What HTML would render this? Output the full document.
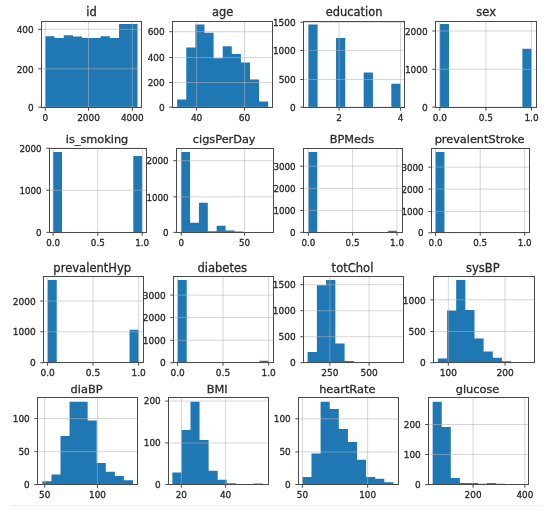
<!DOCTYPE html>
<html lang="en">
<head>
<meta charset="utf-8">
<title>Histograms</title>
<style>
html,body{margin:0;padding:0;background:#fff;}
body{width:550px;height:511px;overflow:hidden;}
svg{display:block;}
</style>
</head>
<body>
<svg width="550" height="511" viewBox="0 0 550 511" font-family="'DejaVu Sans', 'Liberation Sans', sans-serif">
<rect x="0" y="0" width="550" height="511" fill="#ffffff"/>
<rect x="11" y="505.5" width="532" height="5.5" fill="#fcfcfc"/>
<line x1="11" y1="505.5" x2="543" y2="505.5" stroke="#f0f0f0" stroke-width="1"/>
<g>
<rect x="41.5" y="21.5" width="100" height="86" fill="#fff"/>
<path d="M45.3 107.5L45.3 36.21L54.52 36.21L54.52 38.1L63.74 38.1L63.74 35.26L72.96 35.26L72.96 36.44L82.17 36.44L82.17 38.1L91.39 38.1L91.39 38.1L100.61 38.1L100.61 36.21L109.83 36.21L109.83 38.1L119.05 38.1L119.05 23.91L128.27 23.91L128.27 23.91L137.49 23.91L137.49 107.5Z" fill="#1f77b4"/>
<line x1="45.3" y1="21.5" x2="45.3" y2="107.5" stroke="#b4b4b4" stroke-width="0.8" stroke-opacity="0.7"/>
<line x1="88.56" y1="21.5" x2="88.56" y2="107.5" stroke="#b4b4b4" stroke-width="0.8" stroke-opacity="0.7"/>
<line x1="132.29" y1="21.5" x2="132.29" y2="107.5" stroke="#b4b4b4" stroke-width="0.8" stroke-opacity="0.7"/>
<line x1="41.5" y1="107.13" x2="141.5" y2="107.13" stroke="#b4b4b4" stroke-width="0.8" stroke-opacity="0.7"/>
<line x1="41.5" y1="68.83" x2="141.5" y2="68.83" stroke="#b4b4b4" stroke-width="0.8" stroke-opacity="0.7"/>
<line x1="41.5" y1="29.35" x2="141.5" y2="29.35" stroke="#b4b4b4" stroke-width="0.8" stroke-opacity="0.7"/>
<line x1="45.3" y1="107.5" x2="45.3" y2="110.7" stroke="#4a4a4a" stroke-width="1.0"/>
<text x="45.3" y="120.9" font-size="8.95" text-anchor="middle" fill="#2a2a2a" stroke="#2a2a2a" stroke-width="0.3">0</text>
<line x1="88.56" y1="107.5" x2="88.56" y2="110.7" stroke="#4a4a4a" stroke-width="1.0"/>
<text x="88.56" y="120.9" font-size="8.95" text-anchor="middle" fill="#2a2a2a" stroke="#2a2a2a" stroke-width="0.3">2000</text>
<line x1="132.29" y1="107.5" x2="132.29" y2="110.7" stroke="#4a4a4a" stroke-width="1.0"/>
<text x="132.29" y="120.9" font-size="8.95" text-anchor="middle" fill="#2a2a2a" stroke="#2a2a2a" stroke-width="0.3">4000</text>
<line x1="38.3" y1="107.13" x2="41.5" y2="107.13" stroke="#4a4a4a" stroke-width="1.0"/>
<text x="33.7" y="110.79" font-size="8.95" text-anchor="end" fill="#2a2a2a" stroke="#2a2a2a" stroke-width="0.3">0</text>
<line x1="38.3" y1="68.83" x2="41.5" y2="68.83" stroke="#4a4a4a" stroke-width="1.0"/>
<text x="33.7" y="72.5" font-size="8.95" text-anchor="end" fill="#2a2a2a" stroke="#2a2a2a" stroke-width="0.3">200</text>
<line x1="38.3" y1="29.35" x2="41.5" y2="29.35" stroke="#4a4a4a" stroke-width="1.0"/>
<text x="33.7" y="33.02" font-size="8.95" text-anchor="end" fill="#2a2a2a" stroke="#2a2a2a" stroke-width="0.3">400</text>
<rect x="41.5" y="21.5" width="100" height="86" fill="none" stroke="#4a4a4a" stroke-width="1.0"/>
<text x="91.51" y="15.78" font-size="11.45" text-anchor="middle" fill="#2a2a2a" stroke="#2a2a2a" stroke-width="0.3">id</text>
</g>
<g>
<rect x="172.5" y="21.5" width="100" height="86" fill="#fff"/>
<path d="M177.19 107.5L177.19 99.56L186.29 99.56L186.29 47.55L195.39 47.55L195.39 24.39L204.49 24.39L204.49 32.66L213.59 32.66L213.59 58.19L222.7 58.19L222.7 46.37L231.8 46.37L231.8 53.94L240.9 53.94L240.9 62.45L250 62.45L250 79.47L259.1 79.47L259.1 101.45L268.2 101.45L268.2 107.5Z" fill="#1f77b4"/>
<line x1="196.57" y1="21.5" x2="196.57" y2="107.5" stroke="#b4b4b4" stroke-width="0.8" stroke-opacity="0.7"/>
<line x1="244.56" y1="21.5" x2="244.56" y2="107.5" stroke="#b4b4b4" stroke-width="0.8" stroke-opacity="0.7"/>
<line x1="172.5" y1="107.13" x2="272.5" y2="107.13" stroke="#b4b4b4" stroke-width="0.8" stroke-opacity="0.7"/>
<line x1="172.5" y1="82.54" x2="272.5" y2="82.54" stroke="#b4b4b4" stroke-width="0.8" stroke-opacity="0.7"/>
<line x1="172.5" y1="57.48" x2="272.5" y2="57.48" stroke="#b4b4b4" stroke-width="0.8" stroke-opacity="0.7"/>
<line x1="172.5" y1="31.71" x2="272.5" y2="31.71" stroke="#b4b4b4" stroke-width="0.8" stroke-opacity="0.7"/>
<line x1="196.57" y1="107.5" x2="196.57" y2="110.7" stroke="#4a4a4a" stroke-width="1.0"/>
<text x="196.57" y="120.9" font-size="8.95" text-anchor="middle" fill="#2a2a2a" stroke="#2a2a2a" stroke-width="0.3">40</text>
<line x1="244.56" y1="107.5" x2="244.56" y2="110.7" stroke="#4a4a4a" stroke-width="1.0"/>
<text x="244.56" y="120.9" font-size="8.95" text-anchor="middle" fill="#2a2a2a" stroke="#2a2a2a" stroke-width="0.3">60</text>
<line x1="169.3" y1="107.13" x2="172.5" y2="107.13" stroke="#4a4a4a" stroke-width="1.0"/>
<text x="164.7" y="110.79" font-size="8.95" text-anchor="end" fill="#2a2a2a" stroke="#2a2a2a" stroke-width="0.3">0</text>
<line x1="169.3" y1="82.54" x2="172.5" y2="82.54" stroke="#4a4a4a" stroke-width="1.0"/>
<text x="164.7" y="86.21" font-size="8.95" text-anchor="end" fill="#2a2a2a" stroke="#2a2a2a" stroke-width="0.3">200</text>
<line x1="169.3" y1="57.48" x2="172.5" y2="57.48" stroke="#4a4a4a" stroke-width="1.0"/>
<text x="164.7" y="61.15" font-size="8.95" text-anchor="end" fill="#2a2a2a" stroke="#2a2a2a" stroke-width="0.3">400</text>
<line x1="169.3" y1="31.71" x2="172.5" y2="31.71" stroke="#4a4a4a" stroke-width="1.0"/>
<text x="164.7" y="35.38" font-size="8.95" text-anchor="end" fill="#2a2a2a" stroke="#2a2a2a" stroke-width="0.3">600</text>
<rect x="172.5" y="21.5" width="100" height="86" fill="none" stroke="#4a4a4a" stroke-width="1.0"/>
<text x="222.7" y="15.78" font-size="11.45" text-anchor="middle" fill="#2a2a2a" stroke="#2a2a2a" stroke-width="0.3">age</text>
</g>
<g>
<rect x="303.5" y="21.5" width="101" height="86" fill="#fff"/>
<path d="M308.37 107.5L308.37 24.39L317.59 24.39L317.59 107.13L326.81 107.13L326.81 107.13L336.03 107.13L336.03 38.1L345.25 38.1L345.25 107.13L354.47 107.13L354.47 107.13L363.69 107.13L363.69 72.38L372.91 72.38L372.91 107.13L382.13 107.13L382.13 107.13L391.35 107.13L391.35 83.72L400.57 83.72L400.57 107.5Z" fill="#1f77b4"/>
<line x1="339.1" y1="21.5" x2="339.1" y2="107.5" stroke="#b4b4b4" stroke-width="0.8" stroke-opacity="0.7"/>
<line x1="400.57" y1="21.5" x2="400.57" y2="107.5" stroke="#b4b4b4" stroke-width="0.8" stroke-opacity="0.7"/>
<line x1="303.5" y1="107.13" x2="404.5" y2="107.13" stroke="#b4b4b4" stroke-width="0.8" stroke-opacity="0.7"/>
<line x1="303.5" y1="79.47" x2="404.5" y2="79.47" stroke="#b4b4b4" stroke-width="0.8" stroke-opacity="0.7"/>
<line x1="303.5" y1="50.39" x2="404.5" y2="50.39" stroke="#b4b4b4" stroke-width="0.8" stroke-opacity="0.7"/>
<line x1="303.5" y1="22.26" x2="404.5" y2="22.26" stroke="#b4b4b4" stroke-width="0.8" stroke-opacity="0.7"/>
<line x1="339.1" y1="107.5" x2="339.1" y2="110.7" stroke="#4a4a4a" stroke-width="1.0"/>
<text x="339.1" y="120.9" font-size="8.95" text-anchor="middle" fill="#2a2a2a" stroke="#2a2a2a" stroke-width="0.3">2</text>
<line x1="400.57" y1="107.5" x2="400.57" y2="110.7" stroke="#4a4a4a" stroke-width="1.0"/>
<text x="400.57" y="120.9" font-size="8.95" text-anchor="middle" fill="#2a2a2a" stroke="#2a2a2a" stroke-width="0.3">4</text>
<line x1="300.3" y1="107.13" x2="303.5" y2="107.13" stroke="#4a4a4a" stroke-width="1.0"/>
<text x="295.7" y="110.79" font-size="8.95" text-anchor="end" fill="#2a2a2a" stroke="#2a2a2a" stroke-width="0.3">0</text>
<line x1="300.3" y1="79.47" x2="303.5" y2="79.47" stroke="#4a4a4a" stroke-width="1.0"/>
<text x="295.7" y="83.13" font-size="8.95" text-anchor="end" fill="#2a2a2a" stroke="#2a2a2a" stroke-width="0.3">500</text>
<line x1="300.3" y1="50.39" x2="303.5" y2="50.39" stroke="#4a4a4a" stroke-width="1.0"/>
<text x="295.7" y="54.06" font-size="8.95" text-anchor="end" fill="#2a2a2a" stroke="#2a2a2a" stroke-width="0.3">1000</text>
<line x1="300.3" y1="22.26" x2="303.5" y2="22.26" stroke="#4a4a4a" stroke-width="1.0"/>
<text x="295.7" y="25.92" font-size="8.95" text-anchor="end" fill="#2a2a2a" stroke="#2a2a2a" stroke-width="0.3">1500</text>
<rect x="303.5" y="21.5" width="101" height="86" fill="none" stroke="#4a4a4a" stroke-width="1.0"/>
<text x="354.11" y="15.78" font-size="11.45" text-anchor="middle" fill="#2a2a2a" stroke="#2a2a2a" stroke-width="0.3">education</text>
</g>
<g>
<rect x="435.5" y="21.5" width="101" height="86" fill="#fff"/>
<path d="M439.82 107.5L439.82 23.91L449 23.91L449 107.13L458.17 107.13L458.17 107.13L467.34 107.13L467.34 107.13L476.51 107.13L476.51 107.13L485.69 107.13L485.69 107.13L494.86 107.13L494.86 107.13L504.03 107.13L504.03 107.13L513.2 107.13L513.2 107.13L522.38 107.13L522.38 48.74L531.55 48.74L531.55 107.5Z" fill="#1f77b4"/>
<line x1="439.82" y1="21.5" x2="439.82" y2="107.5" stroke="#b4b4b4" stroke-width="0.8" stroke-opacity="0.7"/>
<line x1="485.92" y1="21.5" x2="485.92" y2="107.5" stroke="#b4b4b4" stroke-width="0.8" stroke-opacity="0.7"/>
<line x1="531.55" y1="21.5" x2="531.55" y2="107.5" stroke="#b4b4b4" stroke-width="0.8" stroke-opacity="0.7"/>
<line x1="435.5" y1="107.13" x2="536.5" y2="107.13" stroke="#b4b4b4" stroke-width="0.8" stroke-opacity="0.7"/>
<line x1="435.5" y1="69.3" x2="536.5" y2="69.3" stroke="#b4b4b4" stroke-width="0.8" stroke-opacity="0.7"/>
<line x1="435.5" y1="31" x2="536.5" y2="31" stroke="#b4b4b4" stroke-width="0.8" stroke-opacity="0.7"/>
<line x1="439.82" y1="107.5" x2="439.82" y2="110.7" stroke="#4a4a4a" stroke-width="1.0"/>
<text x="439.82" y="120.9" font-size="8.95" text-anchor="middle" fill="#2a2a2a" stroke="#2a2a2a" stroke-width="0.3">0.0</text>
<line x1="485.92" y1="107.5" x2="485.92" y2="110.7" stroke="#4a4a4a" stroke-width="1.0"/>
<text x="485.92" y="120.9" font-size="8.95" text-anchor="middle" fill="#2a2a2a" stroke="#2a2a2a" stroke-width="0.3">0.5</text>
<line x1="531.55" y1="107.5" x2="531.55" y2="110.7" stroke="#4a4a4a" stroke-width="1.0"/>
<text x="531.55" y="120.9" font-size="8.95" text-anchor="middle" fill="#2a2a2a" stroke="#2a2a2a" stroke-width="0.3">1.0</text>
<line x1="432.3" y1="107.13" x2="435.5" y2="107.13" stroke="#4a4a4a" stroke-width="1.0"/>
<text x="427.7" y="110.79" font-size="8.95" text-anchor="end" fill="#2a2a2a" stroke="#2a2a2a" stroke-width="0.3">0</text>
<line x1="432.3" y1="69.3" x2="435.5" y2="69.3" stroke="#4a4a4a" stroke-width="1.0"/>
<text x="427.7" y="72.97" font-size="8.95" text-anchor="end" fill="#2a2a2a" stroke="#2a2a2a" stroke-width="0.3">1000</text>
<line x1="432.3" y1="31" x2="435.5" y2="31" stroke="#4a4a4a" stroke-width="1.0"/>
<text x="427.7" y="34.67" font-size="8.95" text-anchor="end" fill="#2a2a2a" stroke="#2a2a2a" stroke-width="0.3">2000</text>
<rect x="435.5" y="21.5" width="101" height="86" fill="none" stroke="#4a4a4a" stroke-width="1.0"/>
<text x="486.16" y="15.78" font-size="11.45" text-anchor="middle" fill="#2a2a2a" stroke="#2a2a2a" stroke-width="0.3">sex</text>
</g>
<g>
<rect x="49.5" y="148.5" width="97" height="84" fill="#fff"/>
<path d="M53.1 232.5L53.1 151.99L62.01 151.99L62.01 232.36L70.92 232.36L70.92 232.36L79.83 232.36L79.83 232.36L88.75 232.36L88.75 232.36L97.66 232.36L97.66 232.36L106.57 232.36L106.57 232.36L115.48 232.36L115.48 232.36L124.4 232.36L124.4 232.36L133.31 232.36L133.31 156L142.22 156L142.22 232.5Z" fill="#1f77b4"/>
<line x1="53.1" y1="148.5" x2="53.1" y2="232.5" stroke="#b4b4b4" stroke-width="0.8" stroke-opacity="0.7"/>
<line x1="97.78" y1="148.5" x2="97.78" y2="232.5" stroke="#b4b4b4" stroke-width="0.8" stroke-opacity="0.7"/>
<line x1="142.22" y1="148.5" x2="142.22" y2="232.5" stroke="#b4b4b4" stroke-width="0.8" stroke-opacity="0.7"/>
<line x1="49.5" y1="232.36" x2="146.5" y2="232.36" stroke="#b4b4b4" stroke-width="0.8" stroke-opacity="0.7"/>
<line x1="49.5" y1="190.28" x2="146.5" y2="190.28" stroke="#b4b4b4" stroke-width="0.8" stroke-opacity="0.7"/>
<line x1="49.5" y1="148.2" x2="146.5" y2="148.2" stroke="#b4b4b4" stroke-width="0.8" stroke-opacity="0.7"/>
<line x1="53.1" y1="232.5" x2="53.1" y2="235.7" stroke="#4a4a4a" stroke-width="1.0"/>
<text x="53.1" y="245.75" font-size="8.75" text-anchor="middle" fill="#2a2a2a" stroke="#2a2a2a" stroke-width="0.3">0.0</text>
<line x1="97.78" y1="232.5" x2="97.78" y2="235.7" stroke="#4a4a4a" stroke-width="1.0"/>
<text x="97.78" y="245.75" font-size="8.75" text-anchor="middle" fill="#2a2a2a" stroke="#2a2a2a" stroke-width="0.3">0.5</text>
<line x1="142.22" y1="232.5" x2="142.22" y2="235.7" stroke="#4a4a4a" stroke-width="1.0"/>
<text x="142.22" y="245.75" font-size="8.75" text-anchor="middle" fill="#2a2a2a" stroke="#2a2a2a" stroke-width="0.3">1.0</text>
<line x1="46.3" y1="232.36" x2="49.5" y2="232.36" stroke="#4a4a4a" stroke-width="1.0"/>
<text x="41.7" y="235.96" font-size="8.75" text-anchor="end" fill="#2a2a2a" stroke="#2a2a2a" stroke-width="0.3">0</text>
<line x1="46.3" y1="190.28" x2="49.5" y2="190.28" stroke="#4a4a4a" stroke-width="1.0"/>
<text x="41.7" y="193.88" font-size="8.75" text-anchor="end" fill="#2a2a2a" stroke="#2a2a2a" stroke-width="0.3">1000</text>
<line x1="46.3" y1="148.2" x2="49.5" y2="148.2" stroke="#4a4a4a" stroke-width="1.0"/>
<text x="41.7" y="151.8" font-size="8.75" text-anchor="end" fill="#2a2a2a" stroke="#2a2a2a" stroke-width="0.3">2000</text>
<rect x="49.5" y="148.5" width="97" height="84" fill="none" stroke="#4a4a4a" stroke-width="1.0"/>
<text x="97.01" y="143.2" font-size="11.3" text-anchor="middle" fill="#2a2a2a" stroke="#2a2a2a" stroke-width="0.3">is_smoking</text>
</g>
<g>
<rect x="176.5" y="148.5" width="97" height="84" fill="#fff"/>
<path d="M181.21 232.5L181.21 151.99L190.07 151.99L190.07 222.67L198.94 222.67L198.94 202.81L207.8 202.81L207.8 231.18L216.67 231.18L216.67 225.74L225.53 225.74L225.53 230.47L234.4 230.47L234.4 231.42L243.26 231.42L243.26 232.13L252.13 232.13L252.13 232.13L260.99 232.13L260.99 232.27L269.86 232.27L269.86 232.5Z" fill="#1f77b4"/>
<line x1="181.21" y1="148.5" x2="181.21" y2="232.5" stroke="#b4b4b4" stroke-width="0.8" stroke-opacity="0.7"/>
<line x1="244.56" y1="148.5" x2="244.56" y2="232.5" stroke="#b4b4b4" stroke-width="0.8" stroke-opacity="0.7"/>
<line x1="176.5" y1="232.36" x2="273.5" y2="232.36" stroke="#b4b4b4" stroke-width="0.8" stroke-opacity="0.7"/>
<line x1="176.5" y1="196.9" x2="273.5" y2="196.9" stroke="#b4b4b4" stroke-width="0.8" stroke-opacity="0.7"/>
<line x1="176.5" y1="160.73" x2="273.5" y2="160.73" stroke="#b4b4b4" stroke-width="0.8" stroke-opacity="0.7"/>
<line x1="181.21" y1="232.5" x2="181.21" y2="235.7" stroke="#4a4a4a" stroke-width="1.0"/>
<text x="181.21" y="245.75" font-size="8.75" text-anchor="middle" fill="#2a2a2a" stroke="#2a2a2a" stroke-width="0.3">0</text>
<line x1="244.56" y1="232.5" x2="244.56" y2="235.7" stroke="#4a4a4a" stroke-width="1.0"/>
<text x="244.56" y="245.75" font-size="8.75" text-anchor="middle" fill="#2a2a2a" stroke="#2a2a2a" stroke-width="0.3">50</text>
<line x1="173.3" y1="232.36" x2="176.5" y2="232.36" stroke="#4a4a4a" stroke-width="1.0"/>
<text x="168.7" y="235.96" font-size="8.75" text-anchor="end" fill="#2a2a2a" stroke="#2a2a2a" stroke-width="0.3">0</text>
<line x1="173.3" y1="196.9" x2="176.5" y2="196.9" stroke="#4a4a4a" stroke-width="1.0"/>
<text x="168.7" y="200.5" font-size="8.75" text-anchor="end" fill="#2a2a2a" stroke="#2a2a2a" stroke-width="0.3">1000</text>
<line x1="173.3" y1="160.73" x2="176.5" y2="160.73" stroke="#4a4a4a" stroke-width="1.0"/>
<text x="168.7" y="164.33" font-size="8.75" text-anchor="end" fill="#2a2a2a" stroke="#2a2a2a" stroke-width="0.3">2000</text>
<rect x="176.5" y="148.5" width="97" height="84" fill="none" stroke="#4a4a4a" stroke-width="1.0"/>
<text x="224.18" y="143.2" font-size="11.3" text-anchor="middle" fill="#2a2a2a" stroke="#2a2a2a" stroke-width="0.3">cigsPerDay</text>
</g>
<g>
<rect x="303.5" y="148.5" width="99" height="84" fill="#fff"/>
<path d="M308.37 232.5L308.37 151.99L317.23 151.99L317.23 232.36L326.1 232.36L326.1 232.36L334.96 232.36L334.96 232.36L343.83 232.36L343.83 232.36L352.7 232.36L352.7 232.36L361.56 232.36L361.56 232.36L370.43 232.36L370.43 232.36L379.29 232.36L379.29 232.36L388.16 232.36L388.16 230.71L397.02 230.71L397.02 232.5Z" fill="#1f77b4"/>
<line x1="308.37" y1="148.5" x2="308.37" y2="232.5" stroke="#b4b4b4" stroke-width="0.8" stroke-opacity="0.7"/>
<line x1="352.58" y1="148.5" x2="352.58" y2="232.5" stroke="#b4b4b4" stroke-width="0.8" stroke-opacity="0.7"/>
<line x1="397.02" y1="148.5" x2="397.02" y2="232.5" stroke="#b4b4b4" stroke-width="0.8" stroke-opacity="0.7"/>
<line x1="303.5" y1="232.36" x2="402.5" y2="232.36" stroke="#b4b4b4" stroke-width="0.8" stroke-opacity="0.7"/>
<line x1="303.5" y1="210.38" x2="402.5" y2="210.38" stroke="#b4b4b4" stroke-width="0.8" stroke-opacity="0.7"/>
<line x1="303.5" y1="188.39" x2="402.5" y2="188.39" stroke="#b4b4b4" stroke-width="0.8" stroke-opacity="0.7"/>
<line x1="303.5" y1="166.17" x2="402.5" y2="166.17" stroke="#b4b4b4" stroke-width="0.8" stroke-opacity="0.7"/>
<line x1="308.37" y1="232.5" x2="308.37" y2="235.7" stroke="#4a4a4a" stroke-width="1.0"/>
<text x="308.37" y="245.75" font-size="8.75" text-anchor="middle" fill="#2a2a2a" stroke="#2a2a2a" stroke-width="0.3">0.0</text>
<line x1="352.58" y1="232.5" x2="352.58" y2="235.7" stroke="#4a4a4a" stroke-width="1.0"/>
<text x="352.58" y="245.75" font-size="8.75" text-anchor="middle" fill="#2a2a2a" stroke="#2a2a2a" stroke-width="0.3">0.5</text>
<line x1="397.02" y1="232.5" x2="397.02" y2="235.7" stroke="#4a4a4a" stroke-width="1.0"/>
<text x="397.02" y="245.75" font-size="8.75" text-anchor="middle" fill="#2a2a2a" stroke="#2a2a2a" stroke-width="0.3">1.0</text>
<line x1="300.3" y1="232.36" x2="303.5" y2="232.36" stroke="#4a4a4a" stroke-width="1.0"/>
<text x="295.7" y="235.96" font-size="8.75" text-anchor="end" fill="#2a2a2a" stroke="#2a2a2a" stroke-width="0.3">0</text>
<line x1="300.3" y1="210.38" x2="303.5" y2="210.38" stroke="#4a4a4a" stroke-width="1.0"/>
<text x="295.7" y="213.97" font-size="8.75" text-anchor="end" fill="#2a2a2a" stroke="#2a2a2a" stroke-width="0.3">1000</text>
<line x1="300.3" y1="188.39" x2="303.5" y2="188.39" stroke="#4a4a4a" stroke-width="1.0"/>
<text x="295.7" y="191.99" font-size="8.75" text-anchor="end" fill="#2a2a2a" stroke="#2a2a2a" stroke-width="0.3">2000</text>
<line x1="300.3" y1="166.17" x2="303.5" y2="166.17" stroke="#4a4a4a" stroke-width="1.0"/>
<text x="295.7" y="169.76" font-size="8.75" text-anchor="end" fill="#2a2a2a" stroke="#2a2a2a" stroke-width="0.3">3000</text>
<rect x="303.5" y="148.5" width="99" height="84" fill="none" stroke="#4a4a4a" stroke-width="1.0"/>
<text x="351.93" y="143.2" font-size="11.3" text-anchor="middle" fill="#2a2a2a" stroke="#2a2a2a" stroke-width="0.3">BPMeds</text>
</g>
<g>
<rect x="431.5" y="148.5" width="98" height="84" fill="#fff"/>
<path d="M435.53 232.5L435.53 151.99L444.44 151.99L444.44 232.5L453.36 232.5L453.36 232.5L462.27 232.5L462.27 232.5L471.18 232.5L471.18 232.5L480.09 232.5L480.09 232.5L489.01 232.5L489.01 232.5L497.92 232.5L497.92 232.5L506.83 232.5L506.83 232.5L515.74 232.5L515.74 232.36L524.66 232.36L524.66 232.5Z" fill="#1f77b4"/>
<line x1="435.53" y1="148.5" x2="435.53" y2="232.5" stroke="#b4b4b4" stroke-width="0.8" stroke-opacity="0.7"/>
<line x1="480.21" y1="148.5" x2="480.21" y2="232.5" stroke="#b4b4b4" stroke-width="0.8" stroke-opacity="0.7"/>
<line x1="524.66" y1="148.5" x2="524.66" y2="232.5" stroke="#b4b4b4" stroke-width="0.8" stroke-opacity="0.7"/>
<line x1="431.5" y1="232.84" x2="529.5" y2="232.84" stroke="#b4b4b4" stroke-width="0.8" stroke-opacity="0.7"/>
<line x1="431.5" y1="211.56" x2="529.5" y2="211.56" stroke="#b4b4b4" stroke-width="0.8" stroke-opacity="0.7"/>
<line x1="431.5" y1="189.1" x2="529.5" y2="189.1" stroke="#b4b4b4" stroke-width="0.8" stroke-opacity="0.7"/>
<line x1="431.5" y1="167.12" x2="529.5" y2="167.12" stroke="#b4b4b4" stroke-width="0.8" stroke-opacity="0.7"/>
<line x1="435.53" y1="232.5" x2="435.53" y2="235.7" stroke="#4a4a4a" stroke-width="1.0"/>
<text x="435.53" y="245.75" font-size="8.75" text-anchor="middle" fill="#2a2a2a" stroke="#2a2a2a" stroke-width="0.3">0.0</text>
<line x1="480.21" y1="232.5" x2="480.21" y2="235.7" stroke="#4a4a4a" stroke-width="1.0"/>
<text x="480.21" y="245.75" font-size="8.75" text-anchor="middle" fill="#2a2a2a" stroke="#2a2a2a" stroke-width="0.3">0.5</text>
<line x1="524.66" y1="232.5" x2="524.66" y2="235.7" stroke="#4a4a4a" stroke-width="1.0"/>
<text x="524.66" y="245.75" font-size="8.75" text-anchor="middle" fill="#2a2a2a" stroke="#2a2a2a" stroke-width="0.3">1.0</text>
<line x1="428.3" y1="232.84" x2="431.5" y2="232.84" stroke="#4a4a4a" stroke-width="1.0"/>
<text x="423.7" y="236.43" font-size="8.75" text-anchor="end" fill="#2a2a2a" stroke="#2a2a2a" stroke-width="0.3">0</text>
<line x1="428.3" y1="211.56" x2="431.5" y2="211.56" stroke="#4a4a4a" stroke-width="1.0"/>
<text x="423.7" y="215.15" font-size="8.75" text-anchor="end" fill="#2a2a2a" stroke="#2a2a2a" stroke-width="0.3">1000</text>
<line x1="428.3" y1="189.1" x2="431.5" y2="189.1" stroke="#4a4a4a" stroke-width="1.0"/>
<text x="423.7" y="192.7" font-size="8.75" text-anchor="end" fill="#2a2a2a" stroke="#2a2a2a" stroke-width="0.3">2000</text>
<line x1="428.3" y1="167.12" x2="431.5" y2="167.12" stroke="#4a4a4a" stroke-width="1.0"/>
<text x="423.7" y="170.71" font-size="8.75" text-anchor="end" fill="#2a2a2a" stroke="#2a2a2a" stroke-width="0.3">3000</text>
<rect x="431.5" y="148.5" width="98" height="84" fill="none" stroke="#4a4a4a" stroke-width="1.0"/>
<text x="479.57" y="143.2" font-size="11.3" text-anchor="middle" fill="#2a2a2a" stroke="#2a2a2a" stroke-width="0.3">prevalentStroke</text>
</g>
<g>
<rect x="43.5" y="276.5" width="100" height="86" fill="#fff"/>
<path d="M47.62 362.5L47.62 279.99L56.73 279.99L56.73 362.5L65.83 362.5L65.83 362.5L74.93 362.5L74.93 362.5L84.03 362.5L84.03 362.5L93.13 362.5L93.13 362.5L102.23 362.5L102.23 362.5L111.34 362.5L111.34 362.5L120.44 362.5L120.44 362.5L129.54 362.5L129.54 329.63L138.64 329.63L138.64 362.5Z" fill="#1f77b4"/>
<line x1="47.62" y1="276.5" x2="47.62" y2="362.5" stroke="#b4b4b4" stroke-width="0.8" stroke-opacity="0.7"/>
<line x1="93.01" y1="276.5" x2="93.01" y2="362.5" stroke="#b4b4b4" stroke-width="0.8" stroke-opacity="0.7"/>
<line x1="138.64" y1="276.5" x2="138.64" y2="362.5" stroke="#b4b4b4" stroke-width="0.8" stroke-opacity="0.7"/>
<line x1="43.5" y1="362.73" x2="143.5" y2="362.73" stroke="#b4b4b4" stroke-width="0.8" stroke-opacity="0.7"/>
<line x1="43.5" y1="331.76" x2="143.5" y2="331.76" stroke="#b4b4b4" stroke-width="0.8" stroke-opacity="0.7"/>
<line x1="43.5" y1="301.03" x2="143.5" y2="301.03" stroke="#b4b4b4" stroke-width="0.8" stroke-opacity="0.7"/>
<line x1="47.62" y1="362.5" x2="47.62" y2="365.7" stroke="#4a4a4a" stroke-width="1.0"/>
<text x="47.62" y="375.94" font-size="9.0" text-anchor="middle" fill="#2a2a2a" stroke="#2a2a2a" stroke-width="0.3">0.0</text>
<line x1="93.01" y1="362.5" x2="93.01" y2="365.7" stroke="#4a4a4a" stroke-width="1.0"/>
<text x="93.01" y="375.94" font-size="9.0" text-anchor="middle" fill="#2a2a2a" stroke="#2a2a2a" stroke-width="0.3">0.5</text>
<line x1="138.64" y1="362.5" x2="138.64" y2="365.7" stroke="#4a4a4a" stroke-width="1.0"/>
<text x="138.64" y="375.94" font-size="9.0" text-anchor="middle" fill="#2a2a2a" stroke="#2a2a2a" stroke-width="0.3">1.0</text>
<line x1="40.3" y1="362.73" x2="43.5" y2="362.73" stroke="#4a4a4a" stroke-width="1.0"/>
<text x="35.7" y="366.41" font-size="9.0" text-anchor="end" fill="#2a2a2a" stroke="#2a2a2a" stroke-width="0.3">0</text>
<line x1="40.3" y1="331.76" x2="43.5" y2="331.76" stroke="#4a4a4a" stroke-width="1.0"/>
<text x="35.7" y="335.44" font-size="9.0" text-anchor="end" fill="#2a2a2a" stroke="#2a2a2a" stroke-width="0.3">1000</text>
<line x1="40.3" y1="301.03" x2="43.5" y2="301.03" stroke="#4a4a4a" stroke-width="1.0"/>
<text x="35.7" y="304.71" font-size="9.0" text-anchor="end" fill="#2a2a2a" stroke="#2a2a2a" stroke-width="0.3">2000</text>
<rect x="43.5" y="276.5" width="100" height="86" fill="none" stroke="#4a4a4a" stroke-width="1.0"/>
<text x="92.27" y="271.5" font-size="11.55" text-anchor="middle" fill="#2a2a2a" stroke="#2a2a2a" stroke-width="0.3">prevalentHyp</text>
</g>
<g>
<rect x="173.5" y="276.5" width="100" height="86" fill="#fff"/>
<path d="M177.62 362.5L177.62 279.99L186.73 279.99L186.73 362.5L195.83 362.5L195.83 362.5L204.93 362.5L204.93 362.5L214.03 362.5L214.03 362.5L223.13 362.5L223.13 362.5L232.23 362.5L232.23 362.5L241.34 362.5L241.34 362.5L250.44 362.5L250.44 362.5L259.54 362.5L259.54 360.84L268.64 360.84L268.64 362.5Z" fill="#1f77b4"/>
<line x1="177.62" y1="276.5" x2="177.62" y2="362.5" stroke="#b4b4b4" stroke-width="0.8" stroke-opacity="0.7"/>
<line x1="223.01" y1="276.5" x2="223.01" y2="362.5" stroke="#b4b4b4" stroke-width="0.8" stroke-opacity="0.7"/>
<line x1="268.64" y1="276.5" x2="268.64" y2="362.5" stroke="#b4b4b4" stroke-width="0.8" stroke-opacity="0.7"/>
<line x1="173.5" y1="362.73" x2="273.5" y2="362.73" stroke="#b4b4b4" stroke-width="0.8" stroke-opacity="0.7"/>
<line x1="173.5" y1="340.27" x2="273.5" y2="340.27" stroke="#b4b4b4" stroke-width="0.8" stroke-opacity="0.7"/>
<line x1="173.5" y1="317.57" x2="273.5" y2="317.57" stroke="#b4b4b4" stroke-width="0.8" stroke-opacity="0.7"/>
<line x1="173.5" y1="295.12" x2="273.5" y2="295.12" stroke="#b4b4b4" stroke-width="0.8" stroke-opacity="0.7"/>
<line x1="177.62" y1="362.5" x2="177.62" y2="365.7" stroke="#4a4a4a" stroke-width="1.0"/>
<text x="177.62" y="375.94" font-size="9.0" text-anchor="middle" fill="#2a2a2a" stroke="#2a2a2a" stroke-width="0.3">0.0</text>
<line x1="223.01" y1="362.5" x2="223.01" y2="365.7" stroke="#4a4a4a" stroke-width="1.0"/>
<text x="223.01" y="375.94" font-size="9.0" text-anchor="middle" fill="#2a2a2a" stroke="#2a2a2a" stroke-width="0.3">0.5</text>
<line x1="268.64" y1="362.5" x2="268.64" y2="365.7" stroke="#4a4a4a" stroke-width="1.0"/>
<text x="268.64" y="375.94" font-size="9.0" text-anchor="middle" fill="#2a2a2a" stroke="#2a2a2a" stroke-width="0.3">1.0</text>
<line x1="170.3" y1="362.73" x2="173.5" y2="362.73" stroke="#4a4a4a" stroke-width="1.0"/>
<text x="165.7" y="366.41" font-size="9.0" text-anchor="end" fill="#2a2a2a" stroke="#2a2a2a" stroke-width="0.3">0</text>
<line x1="170.3" y1="340.27" x2="173.5" y2="340.27" stroke="#4a4a4a" stroke-width="1.0"/>
<text x="165.7" y="343.95" font-size="9.0" text-anchor="end" fill="#2a2a2a" stroke="#2a2a2a" stroke-width="0.3">1000</text>
<line x1="170.3" y1="317.57" x2="173.5" y2="317.57" stroke="#4a4a4a" stroke-width="1.0"/>
<text x="165.7" y="321.26" font-size="9.0" text-anchor="end" fill="#2a2a2a" stroke="#2a2a2a" stroke-width="0.3">2000</text>
<line x1="170.3" y1="295.12" x2="173.5" y2="295.12" stroke="#4a4a4a" stroke-width="1.0"/>
<text x="165.7" y="298.8" font-size="9.0" text-anchor="end" fill="#2a2a2a" stroke="#2a2a2a" stroke-width="0.3">3000</text>
<rect x="173.5" y="276.5" width="100" height="86" fill="none" stroke="#4a4a4a" stroke-width="1.0"/>
<text x="222.27" y="271.5" font-size="11.55" text-anchor="middle" fill="#2a2a2a" stroke="#2a2a2a" stroke-width="0.3">diabetes</text>
</g>
<g>
<rect x="303.5" y="276.5" width="100" height="86" fill="#fff"/>
<path d="M307.62 362.5L307.62 352.09L316.87 352.09L316.87 285.19L326.11 285.19L326.11 279.99L335.35 279.99L335.35 343.58L344.6 343.58L344.6 361.07L353.84 361.07L353.84 362.49L363.09 362.49L363.09 362.5L372.33 362.5L372.33 362.5L381.57 362.5L381.57 362.5L390.82 362.5L390.82 362.5L400.06 362.5L400.06 362.5Z" fill="#1f77b4"/>
<line x1="329.85" y1="276.5" x2="329.85" y2="362.5" stroke="#b4b4b4" stroke-width="0.8" stroke-opacity="0.7"/>
<line x1="369.09" y1="276.5" x2="369.09" y2="362.5" stroke="#b4b4b4" stroke-width="0.8" stroke-opacity="0.7"/>
<line x1="303.5" y1="362.73" x2="403.5" y2="362.73" stroke="#b4b4b4" stroke-width="0.8" stroke-opacity="0.7"/>
<line x1="303.5" y1="336.72" x2="403.5" y2="336.72" stroke="#b4b4b4" stroke-width="0.8" stroke-opacity="0.7"/>
<line x1="303.5" y1="310.72" x2="403.5" y2="310.72" stroke="#b4b4b4" stroke-width="0.8" stroke-opacity="0.7"/>
<line x1="303.5" y1="284.71" x2="403.5" y2="284.71" stroke="#b4b4b4" stroke-width="0.8" stroke-opacity="0.7"/>
<line x1="329.85" y1="362.5" x2="329.85" y2="365.7" stroke="#4a4a4a" stroke-width="1.0"/>
<text x="329.85" y="375.94" font-size="9.0" text-anchor="middle" fill="#2a2a2a" stroke="#2a2a2a" stroke-width="0.3">250</text>
<line x1="369.09" y1="362.5" x2="369.09" y2="365.7" stroke="#4a4a4a" stroke-width="1.0"/>
<text x="369.09" y="375.94" font-size="9.0" text-anchor="middle" fill="#2a2a2a" stroke="#2a2a2a" stroke-width="0.3">500</text>
<line x1="300.3" y1="362.73" x2="303.5" y2="362.73" stroke="#4a4a4a" stroke-width="1.0"/>
<text x="295.7" y="366.41" font-size="9.0" text-anchor="end" fill="#2a2a2a" stroke="#2a2a2a" stroke-width="0.3">0</text>
<line x1="300.3" y1="336.72" x2="303.5" y2="336.72" stroke="#4a4a4a" stroke-width="1.0"/>
<text x="295.7" y="340.41" font-size="9.0" text-anchor="end" fill="#2a2a2a" stroke="#2a2a2a" stroke-width="0.3">500</text>
<line x1="300.3" y1="310.72" x2="303.5" y2="310.72" stroke="#4a4a4a" stroke-width="1.0"/>
<text x="295.7" y="314.4" font-size="9.0" text-anchor="end" fill="#2a2a2a" stroke="#2a2a2a" stroke-width="0.3">1000</text>
<line x1="300.3" y1="284.71" x2="303.5" y2="284.71" stroke="#4a4a4a" stroke-width="1.0"/>
<text x="295.7" y="288.4" font-size="9.0" text-anchor="end" fill="#2a2a2a" stroke="#2a2a2a" stroke-width="0.3">1500</text>
<rect x="303.5" y="276.5" width="100" height="86" fill="none" stroke="#4a4a4a" stroke-width="1.0"/>
<text x="352.51" y="271.5" font-size="11.55" text-anchor="middle" fill="#2a2a2a" stroke="#2a2a2a" stroke-width="0.3">totChol</text>
</g>
<g>
<rect x="433.5" y="276.5" width="101" height="86" fill="#fff"/>
<path d="M437.9 362.5L437.9 358.47L447.04 358.47L447.04 310.48L456.19 310.48L456.19 279.99L465.34 279.99L465.34 310.01L474.49 310.01L474.49 338.38L483.64 338.38L483.64 351.62L492.79 351.62L492.79 357.76L501.94 357.76L501.94 361.31L511.09 361.31L511.09 362.26L520.24 362.26L520.24 362.49L529.39 362.49L529.39 362.5Z" fill="#1f77b4"/>
<line x1="448.3" y1="276.5" x2="448.3" y2="362.5" stroke="#b4b4b4" stroke-width="0.8" stroke-opacity="0.7"/>
<line x1="505.04" y1="276.5" x2="505.04" y2="362.5" stroke="#b4b4b4" stroke-width="0.8" stroke-opacity="0.7"/>
<line x1="433.5" y1="362.73" x2="534.5" y2="362.73" stroke="#b4b4b4" stroke-width="0.8" stroke-opacity="0.7"/>
<line x1="433.5" y1="331.52" x2="534.5" y2="331.52" stroke="#b4b4b4" stroke-width="0.8" stroke-opacity="0.7"/>
<line x1="433.5" y1="299.84" x2="534.5" y2="299.84" stroke="#b4b4b4" stroke-width="0.8" stroke-opacity="0.7"/>
<line x1="448.3" y1="362.5" x2="448.3" y2="365.7" stroke="#4a4a4a" stroke-width="1.0"/>
<text x="448.3" y="375.94" font-size="9.0" text-anchor="middle" fill="#2a2a2a" stroke="#2a2a2a" stroke-width="0.3">100</text>
<line x1="505.04" y1="362.5" x2="505.04" y2="365.7" stroke="#4a4a4a" stroke-width="1.0"/>
<text x="505.04" y="375.94" font-size="9.0" text-anchor="middle" fill="#2a2a2a" stroke="#2a2a2a" stroke-width="0.3">200</text>
<line x1="430.3" y1="362.73" x2="433.5" y2="362.73" stroke="#4a4a4a" stroke-width="1.0"/>
<text x="425.7" y="366.41" font-size="9.0" text-anchor="end" fill="#2a2a2a" stroke="#2a2a2a" stroke-width="0.3">0</text>
<line x1="430.3" y1="331.52" x2="433.5" y2="331.52" stroke="#4a4a4a" stroke-width="1.0"/>
<text x="425.7" y="335.21" font-size="9.0" text-anchor="end" fill="#2a2a2a" stroke="#2a2a2a" stroke-width="0.3">500</text>
<line x1="430.3" y1="299.84" x2="433.5" y2="299.84" stroke="#4a4a4a" stroke-width="1.0"/>
<text x="425.7" y="303.53" font-size="9.0" text-anchor="end" fill="#2a2a2a" stroke="#2a2a2a" stroke-width="0.3">1000</text>
<rect x="433.5" y="276.5" width="101" height="86" fill="none" stroke="#4a4a4a" stroke-width="1.0"/>
<text x="482.78" y="271.5" font-size="11.55" text-anchor="middle" fill="#2a2a2a" stroke="#2a2a2a" stroke-width="0.3">sysBP</text>
</g>
<g>
<rect x="37.5" y="397.5" width="100" height="87" fill="#fff"/>
<path d="M42.39 484.5L42.39 481.24L51.44 481.24L51.44 474.38L60.5 474.38L60.5 436.08L69.55 436.08L69.55 401.8L78.61 401.8L78.61 401.8L87.66 401.8L87.66 420.48L96.71 420.48L96.71 463.03L105.77 463.03L105.77 471.78L114.82 471.78L114.82 476.04L123.88 476.04L123.88 480.29L132.93 480.29L132.93 484.5Z" fill="#1f77b4"/>
<line x1="44.75" y1="397.5" x2="44.75" y2="484.5" stroke="#b4b4b4" stroke-width="0.8" stroke-opacity="0.7"/>
<line x1="97.47" y1="397.5" x2="97.47" y2="484.5" stroke="#b4b4b4" stroke-width="0.8" stroke-opacity="0.7"/>
<line x1="37.5" y1="484.55" x2="137.5" y2="484.55" stroke="#b4b4b4" stroke-width="0.8" stroke-opacity="0.7"/>
<line x1="37.5" y1="451.69" x2="137.5" y2="451.69" stroke="#b4b4b4" stroke-width="0.8" stroke-opacity="0.7"/>
<line x1="37.5" y1="418.59" x2="137.5" y2="418.59" stroke="#b4b4b4" stroke-width="0.8" stroke-opacity="0.7"/>
<line x1="44.75" y1="484.5" x2="44.75" y2="487.7" stroke="#4a4a4a" stroke-width="1.0"/>
<text x="44.75" y="497.86" font-size="8.9" text-anchor="middle" fill="#2a2a2a" stroke="#2a2a2a" stroke-width="0.3">50</text>
<line x1="97.47" y1="484.5" x2="97.47" y2="487.7" stroke="#4a4a4a" stroke-width="1.0"/>
<text x="97.47" y="497.86" font-size="8.9" text-anchor="middle" fill="#2a2a2a" stroke="#2a2a2a" stroke-width="0.3">100</text>
<line x1="34.3" y1="484.55" x2="37.5" y2="484.55" stroke="#4a4a4a" stroke-width="1.0"/>
<text x="29.7" y="487.79" font-size="8.9" text-anchor="end" fill="#2a2a2a" stroke="#2a2a2a" stroke-width="0.3">0</text>
<line x1="34.3" y1="451.69" x2="37.5" y2="451.69" stroke="#4a4a4a" stroke-width="1.0"/>
<text x="29.7" y="454.93" font-size="8.9" text-anchor="end" fill="#2a2a2a" stroke="#2a2a2a" stroke-width="0.3">50</text>
<line x1="34.3" y1="418.59" x2="37.5" y2="418.59" stroke="#4a4a4a" stroke-width="1.0"/>
<text x="29.7" y="421.84" font-size="8.9" text-anchor="end" fill="#2a2a2a" stroke="#2a2a2a" stroke-width="0.3">100</text>
<rect x="37.5" y="397.5" width="100" height="87" fill="none" stroke="#4a4a4a" stroke-width="1.0"/>
<text x="86.56" y="392.75" font-size="11.35" text-anchor="middle" fill="#2a2a2a" stroke="#2a2a2a" stroke-width="0.3">diaBP</text>
</g>
<g>
<rect x="168.5" y="397.5" width="100" height="87" fill="#fff"/>
<path d="M172.39 484.5L172.39 472.49L181.44 472.49L181.44 429.94L190.5 429.94L190.5 401.8L199.55 401.8L199.55 440.1L208.61 440.1L208.61 470.83L217.66 470.83L217.66 479.82L226.71 479.82L226.71 483.13L235.77 483.13L235.77 484.31L244.82 484.31L244.82 484.5L253.88 484.5L253.88 483.6L262.93 483.6L262.93 484.5Z" fill="#1f77b4"/>
<line x1="181.37" y1="397.5" x2="181.37" y2="484.5" stroke="#b4b4b4" stroke-width="0.8" stroke-opacity="0.7"/>
<line x1="225.58" y1="397.5" x2="225.58" y2="484.5" stroke="#b4b4b4" stroke-width="0.8" stroke-opacity="0.7"/>
<line x1="168.5" y1="484.55" x2="268.5" y2="484.55" stroke="#b4b4b4" stroke-width="0.8" stroke-opacity="0.7"/>
<line x1="168.5" y1="442.94" x2="268.5" y2="442.94" stroke="#b4b4b4" stroke-width="0.8" stroke-opacity="0.7"/>
<line x1="168.5" y1="401.09" x2="268.5" y2="401.09" stroke="#b4b4b4" stroke-width="0.8" stroke-opacity="0.7"/>
<line x1="181.37" y1="484.5" x2="181.37" y2="487.7" stroke="#4a4a4a" stroke-width="1.0"/>
<text x="181.37" y="497.86" font-size="8.9" text-anchor="middle" fill="#2a2a2a" stroke="#2a2a2a" stroke-width="0.3">20</text>
<line x1="225.58" y1="484.5" x2="225.58" y2="487.7" stroke="#4a4a4a" stroke-width="1.0"/>
<text x="225.58" y="497.86" font-size="8.9" text-anchor="middle" fill="#2a2a2a" stroke="#2a2a2a" stroke-width="0.3">40</text>
<line x1="165.3" y1="484.55" x2="168.5" y2="484.55" stroke="#4a4a4a" stroke-width="1.0"/>
<text x="160.7" y="487.79" font-size="8.9" text-anchor="end" fill="#2a2a2a" stroke="#2a2a2a" stroke-width="0.3">0</text>
<line x1="165.3" y1="442.94" x2="168.5" y2="442.94" stroke="#4a4a4a" stroke-width="1.0"/>
<text x="160.7" y="446.19" font-size="8.9" text-anchor="end" fill="#2a2a2a" stroke="#2a2a2a" stroke-width="0.3">100</text>
<line x1="165.3" y1="401.09" x2="168.5" y2="401.09" stroke="#4a4a4a" stroke-width="1.0"/>
<text x="160.7" y="404.34" font-size="8.9" text-anchor="end" fill="#2a2a2a" stroke="#2a2a2a" stroke-width="0.3">200</text>
<rect x="168.5" y="397.5" width="100" height="87" fill="none" stroke="#4a4a4a" stroke-width="1.0"/>
<text x="217.27" y="392.75" font-size="11.35" text-anchor="middle" fill="#2a2a2a" stroke="#2a2a2a" stroke-width="0.3">BMI</text>
</g>
<g>
<rect x="298.5" y="397.5" width="100" height="87" fill="#fff"/>
<path d="M302.39 484.5L302.39 476.98L311.49 476.98L311.49 453.58L320.59 453.58L320.59 401.8L329.69 401.8L329.69 408.9L338.79 408.9L338.79 428.99L347.9 428.99L347.9 441.99L357 441.99L357 459.72L366.1 459.72L366.1 476.98L375.2 476.98L375.2 478.64L384.3 478.64L384.3 482.18L393.4 482.18L393.4 484.5Z" fill="#1f77b4"/>
<line x1="302.39" y1="397.5" x2="302.39" y2="484.5" stroke="#b4b4b4" stroke-width="0.8" stroke-opacity="0.7"/>
<line x1="367.64" y1="397.5" x2="367.64" y2="484.5" stroke="#b4b4b4" stroke-width="0.8" stroke-opacity="0.7"/>
<line x1="298.5" y1="484.55" x2="398.5" y2="484.55" stroke="#b4b4b4" stroke-width="0.8" stroke-opacity="0.7"/>
<line x1="298.5" y1="451.92" x2="398.5" y2="451.92" stroke="#b4b4b4" stroke-width="0.8" stroke-opacity="0.7"/>
<line x1="298.5" y1="418.83" x2="398.5" y2="418.83" stroke="#b4b4b4" stroke-width="0.8" stroke-opacity="0.7"/>
<line x1="302.39" y1="484.5" x2="302.39" y2="487.7" stroke="#4a4a4a" stroke-width="1.0"/>
<text x="302.39" y="497.86" font-size="8.9" text-anchor="middle" fill="#2a2a2a" stroke="#2a2a2a" stroke-width="0.3">50</text>
<line x1="367.64" y1="484.5" x2="367.64" y2="487.7" stroke="#4a4a4a" stroke-width="1.0"/>
<text x="367.64" y="497.86" font-size="8.9" text-anchor="middle" fill="#2a2a2a" stroke="#2a2a2a" stroke-width="0.3">100</text>
<line x1="295.3" y1="484.55" x2="298.5" y2="484.55" stroke="#4a4a4a" stroke-width="1.0"/>
<text x="290.7" y="487.79" font-size="8.9" text-anchor="end" fill="#2a2a2a" stroke="#2a2a2a" stroke-width="0.3">0</text>
<line x1="295.3" y1="451.92" x2="298.5" y2="451.92" stroke="#4a4a4a" stroke-width="1.0"/>
<text x="290.7" y="455.17" font-size="8.9" text-anchor="end" fill="#2a2a2a" stroke="#2a2a2a" stroke-width="0.3">50</text>
<line x1="295.3" y1="418.83" x2="298.5" y2="418.83" stroke="#4a4a4a" stroke-width="1.0"/>
<text x="290.7" y="422.07" font-size="8.9" text-anchor="end" fill="#2a2a2a" stroke="#2a2a2a" stroke-width="0.3">100</text>
<rect x="298.5" y="397.5" width="100" height="87" fill="none" stroke="#4a4a4a" stroke-width="1.0"/>
<text x="347.27" y="392.75" font-size="11.35" text-anchor="middle" fill="#2a2a2a" stroke="#2a2a2a" stroke-width="0.3">heartRate</text>
</g>
<g>
<rect x="428.5" y="397.5" width="100" height="87" fill="#fff"/>
<path d="M432.66 484.5L432.66 401.8L441.71 401.8L441.71 427.1L450.77 427.1L450.77 477.93L459.82 477.93L459.82 482.89L468.88 482.89L468.88 482.89L477.93 482.89L477.93 483.84L486.99 483.84L486.99 482.89L496.04 482.89L496.04 483.84L505.09 483.84L505.09 484.07L514.15 484.07L514.15 484.07L523.2 484.07L523.2 484.5Z" fill="#1f77b4"/>
<line x1="473.09" y1="397.5" x2="473.09" y2="484.5" stroke="#b4b4b4" stroke-width="0.8" stroke-opacity="0.7"/>
<line x1="524.86" y1="397.5" x2="524.86" y2="484.5" stroke="#b4b4b4" stroke-width="0.8" stroke-opacity="0.7"/>
<line x1="428.5" y1="484.55" x2="528.5" y2="484.55" stroke="#b4b4b4" stroke-width="0.8" stroke-opacity="0.7"/>
<line x1="428.5" y1="454.52" x2="528.5" y2="454.52" stroke="#b4b4b4" stroke-width="0.8" stroke-opacity="0.7"/>
<line x1="428.5" y1="424.5" x2="528.5" y2="424.5" stroke="#b4b4b4" stroke-width="0.8" stroke-opacity="0.7"/>
<line x1="473.09" y1="484.5" x2="473.09" y2="487.7" stroke="#4a4a4a" stroke-width="1.0"/>
<text x="473.09" y="497.86" font-size="8.9" text-anchor="middle" fill="#2a2a2a" stroke="#2a2a2a" stroke-width="0.3">200</text>
<line x1="524.86" y1="484.5" x2="524.86" y2="487.7" stroke="#4a4a4a" stroke-width="1.0"/>
<text x="524.86" y="497.86" font-size="8.9" text-anchor="middle" fill="#2a2a2a" stroke="#2a2a2a" stroke-width="0.3">400</text>
<line x1="425.3" y1="484.55" x2="428.5" y2="484.55" stroke="#4a4a4a" stroke-width="1.0"/>
<text x="420.7" y="487.79" font-size="8.9" text-anchor="end" fill="#2a2a2a" stroke="#2a2a2a" stroke-width="0.3">0</text>
<line x1="425.3" y1="454.52" x2="428.5" y2="454.52" stroke="#4a4a4a" stroke-width="1.0"/>
<text x="420.7" y="457.77" font-size="8.9" text-anchor="end" fill="#2a2a2a" stroke="#2a2a2a" stroke-width="0.3">100</text>
<line x1="425.3" y1="424.5" x2="428.5" y2="424.5" stroke="#4a4a4a" stroke-width="1.0"/>
<text x="420.7" y="427.75" font-size="8.9" text-anchor="end" fill="#2a2a2a" stroke="#2a2a2a" stroke-width="0.3">200</text>
<rect x="428.5" y="397.5" width="100" height="87" fill="none" stroke="#4a4a4a" stroke-width="1.0"/>
<text x="477.54" y="392.75" font-size="11.35" text-anchor="middle" fill="#2a2a2a" stroke="#2a2a2a" stroke-width="0.3">glucose</text>
</g>
</svg>
</body>
</html>
